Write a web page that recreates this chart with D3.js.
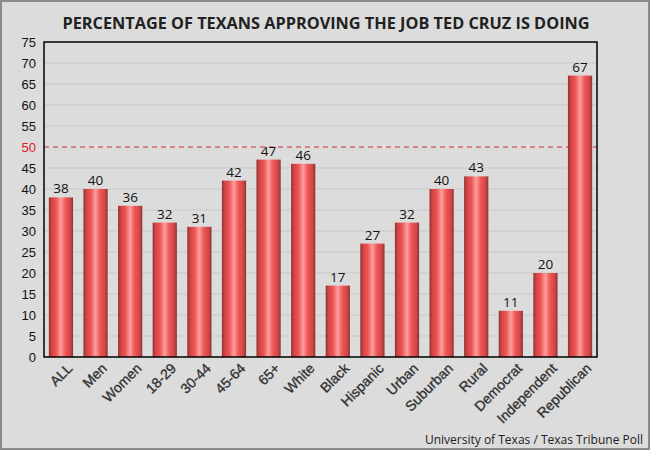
<!DOCTYPE html>
<html>
<head>
<meta charset="utf-8">
<script src="https://cdn.jsdelivr.net/npm/d3@7"></script>
<style>
  body { margin: 0; background: #fff; }
  svg { display: block; font-family: "Open Sans", "DejaVu Sans", sans-serif; }
</style>
</head>
<body>
<div id="chart"></div>
<script>
// categories and approval values
const groups = ["ALL", "Men", "Women", "18-29", "30-44", "45-64", "65+", "White",
  "Black", "Hispanic", "Urban", "Suburban", "Rural", "Democrat", "Independent", "Republican"];
const approval = [38, 40, 36, 32, 31, 42, 47, 46, 17, 27, 32, 40, 43, 11, 20, 67];
const yTicks = [0, 5, 10, 15, 20, 25, 30, 35, 40, 45, 50, 55, 60, 65, 70, 75];
const refLine = 50;

const data = groups.map((g, i) => ({ group: g, value: approval[i] }));

const W = 650, H = 450;
const margin = { top: 42, right: 53, bottom: 93, left: 44 };
const width = W - margin.left - margin.right,
  height = H - margin.top - margin.bottom;

const svg = d3.select("#chart").append("svg")
  .attr("width", W).attr("height", H);

// gradient for the cylinder look
const defs = svg.append("defs");
const grad = defs.append("linearGradient").attr("id", "barGrad")
  .attr("x1", "0%").attr("x2", "100%").attr("y1", "0%").attr("y2", "0%");
[["0%", "#8e3232"], ["12%", "#d44444"], ["30%", "#ec5454"], ["50%", "#ff9e9e"],
 ["68%", "#ee5858"], ["88%", "#d24646"], ["100%", "#8c3434"]]
  .forEach(([o, c]) => grad.append("stop").attr("offset", o).attr("stop-color", c));

// background + frame
svg.append("rect").attr("x", 1).attr("y", 1).attr("width", W - 2).attr("height", H - 2)
  .attr("fill", "#dcdcdc").attr("stroke", "#8a8a8a").attr("stroke-width", 2);

svg.append("text")
  .attr("x", W / 2 + 1).attr("y", 29)
  .attr("text-anchor", "middle")
  .style("font-size", "16.3px").style("font-weight", "bold")
  .attr("fill", "#222")
  .text("PERCENTAGE OF TEXANS APPROVING THE JOB TED CRUZ IS DOING");

const g = svg.append("g")
  .attr("transform", "translate(" + margin.left + "," + margin.top + ")");

let x = d3.scaleBand().domain(groups).range([0, width])
  .paddingInner(0.3).paddingOuter(0.14);
let y = d3.scaleLinear().domain([0, 75]).range([height, 0]);

// gridlines
g.append("g").selectAll("line")
  .data(yTicks.filter(t => t > 0 && t < 75 && t !== refLine))
  .enter().append("line")
  .attr("x1", 0).attr("x2", width)
  .attr("y1", d => y(d)).attr("y2", d => y(d))
  .attr("stroke", "#c8c8c8").attr("stroke-width", 1);

// reference line at 50
g.append("line")
  .attr("x1", 0).attr("x2", width)
  .attr("y1", y(refLine)).attr("y2", y(refLine))
  .attr("stroke", "#d42a2a").attr("stroke-width", 1.2)
  .attr("stroke-dasharray", "5,4");

// bars
g.append("g").selectAll("rect")
  .data(data).enter().append("rect")
  .attr("x", d => x(d.group))
  .attr("y", d => y(d.value))
  .attr("width", x.bandwidth())
  .attr("height", d => height - y(d.value))
  .attr("fill", "url(#barGrad)");

// value labels
g.append("g").selectAll("text")
  .data(data).enter().append("text")
  .attr("x", d => x(d.group) + x.bandwidth() / 2)
  .attr("y", d => y(d.value) - 4)
  .attr("text-anchor", "middle")
  .style("font-size", "13.5px")
  .attr("fill", "#111")
  .text(d => d.value);

// y axis
const yAxis = g.append("g")
  .call(d3.axisLeft(y).tickValues(yTicks).tickSize(0).tickPadding(8));
yAxis.select(".domain").remove();
yAxis.selectAll("text")
  .style("font-size", "13px")
  .attr("fill", d => d === refLine ? "#e02020" : "#111");

// x axis labels rotated
const xAxis = g.append("g")
  .attr("transform", "translate(0," + height + ")")
  .call(d3.axisBottom(x).tickSize(0).tickPadding(9));
xAxis.select(".domain").remove();
xAxis.selectAll("text")
  .style("font-size", "14px")
  .attr("fill", "#333").attr("stroke", "#333").attr("stroke-width", 0.35)
  .attr("text-anchor", "end")
  .attr("dx", "0em").attr("dy", "0.6em")
  .attr("transform", "rotate(-45)");

// plot frame
g.append("rect")
  .attr("width", width).attr("height", height)
  .attr("fill", "none").attr("stroke", "#000").attr("stroke-width", 1.5);

svg.append("text")
  .attr("x", W - 7).attr("y", H - 6)
  .attr("text-anchor", "end")
  .style("font-size", "12px")
  .attr("fill", "#222")
  .text("University of Texas / Texas Tribune Poll");
</script>
</body>
</html>
